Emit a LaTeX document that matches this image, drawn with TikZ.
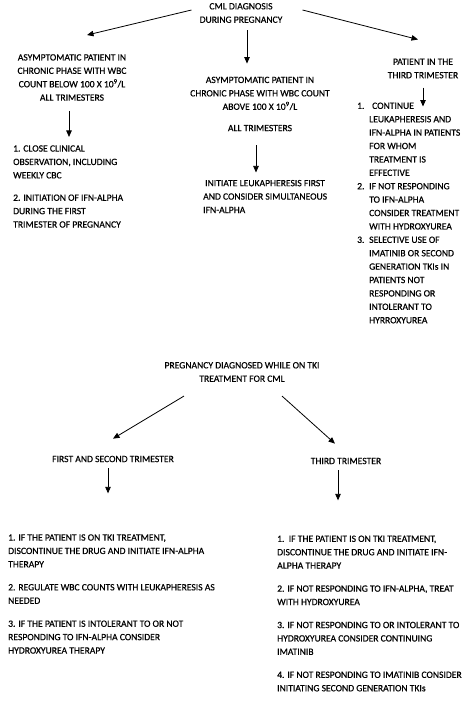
\documentclass[tikz,border=0pt]{standalone}
\usepackage{fontspec}
\setmainfont{Carlito}[FakeBold=0.5]
\usetikzlibrary{arrows.meta}

\begin{document}
\begin{tikzpicture}[x=1pt,y=-1pt,
  arr/.style={black,line width=0.8pt,-{Triangle[length=6.5pt,width=5.5pt]}},
  txt/.style={font=\fontsize{9.6}{13.4}\selectfont}]
\tikzstyle{every node}+=[inner sep=0pt]
\useasboundingbox (0,0) rectangle (474,704);
\node [txt,align=center] (diag) at (241,13) {CML DIAGNOSIS\\DURING PREGNANCY};
\node [txt,align=center] (asymLow) at (72,77.5) {ASYMPTOMATIC PATIENT IN\\CHRONIC PHASE WITH WBC\\COUNT BELOW 100 X 10\textsuperscript{9}/L\\ALL TRIMESTERS};
\node [txt,align=center] (asymHigh) at (260,104) {ASYMPTOMATIC PATIENT IN\\CHRONIC PHASE WITH WBC COUNT\\ABOVE 100 X 10\textsuperscript{9}/L\\[8pt]ALL TRIMESTERS};
\node [txt,align=center] (third) at (423,68.5) {PATIENT IN THE\\THIRD TRIMESTER};
\node [txt,align=left,anchor=west] (leftList) at (13,186.5) {1. CLOSE CLINICAL\\OBSERVATION, INCLUDING\\WEEKLY CBC\\[9pt]2. INITIATION OF IFN-ALPHA\\DURING THE FIRST\\TRIMESTER OF PREGNANCY};
\node [txt,align=left,anchor=west] (midList) at (203,196.5) {\hspace*{2pt}INITIATE LEUKAPHERESIS FIRST\\AND CONSIDER SIMULTANEOUS\\IFN-ALPHA};
\node [txt,align=left,anchor=west] (rightList) at (357,213) {\makebox[15pt][l]{1.}CONTINUE\\\hspace*{12pt}LEUKAPHERESIS AND\\\hspace*{12pt}IFN-ALPHA IN PATIENTS\\\hspace*{12pt}FOR WHOM\\\hspace*{12pt}TREATMENT IS\\\hspace*{12pt}EFFECTIVE\\\makebox[12pt][l]{2.}IF NOT RESPONDING\\\hspace*{12pt}TO IFN-ALPHA\\\hspace*{12pt}CONSIDER TREATMENT\\\hspace*{12pt}WITH HYDROXYUREA\\\makebox[12pt][l]{3.}SELECTIVE USE OF\\\hspace*{12pt}IMATINIB OR SECOND\\\hspace*{12pt}GENERATION TKIs IN\\\hspace*{12pt}PATIENTS NOT\\\hspace*{12pt}RESPONDING OR\\\hspace*{12pt}INTOLERANT TO\\\hspace*{12pt}HYRROXYUREA};
\node [txt,align=center] (tki) at (242,372) {PREGNANCY DIAGNOSED WHILE ON TKI\\TREATMENT FOR CML};
\node [txt] (firstSec) at (113,459) {FIRST AND SECOND TRIMESTER};
\node [txt] (thirdTri) at (346,461) {THIRD TRIMESTER};
\node [txt,align=left,anchor=west] (blList) at (8,594) {1. IF THE PATIENT IS ON TKI TREATMENT,\\DISCONTINUE THE DRUG AND INITIATE IFN-ALPHA\\THERAPY\\[9.6pt]2. REGULATE WBC COUNTS WITH LEUKAPHERESIS AS\\NEEDED\\[9.6pt]3. IF THE PATIENT IS INTOLERANT TO OR NOT\\RESPONDING TO IFN-ALPHA CONSIDER\\HYDROXYUREA THERAPY};
\node [txt,align=left,anchor=west] (brList) at (277,613.5) {1.\ \ IF THE PATIENT IS ON TKI TREATMENT,\\DISCONTINUE THE DRUG AND INITIATE IFN-\\ALPHA THERAPY\\[9.6pt]2. IF NOT RESPONDING TO IFN-ALPHA, TREAT\\WITH HYDROXYUREA\\[9.6pt]3. IF NOT RESPONDING TO OR INTOLERANT TO\\HYDROXYUREA CONSIDER CONTINUING\\IMATINIB\\[9.6pt]4. IF NOT RESPONDING TO IMATINIB CONSIDER\\INITIATING SECOND GENERATION TKIs};
\draw [arr] ([shift={(-8,-3)}]diag.west) -- ([shift={(15,-19)}]asymLow.north);
\draw [arr] ([shift={(6,7)}]diag.south) -- ([shift={(-13,-13)}]asymHigh.north);
\draw [arr] ([shift={(20,-3)}]diag.east) -- ([shift={(-5,-19)}]third.north);
\draw [arr] ([shift={(-3,10)}]asymLow.south) -- ([shift={(-3,36)}]asymLow.south);
\draw [arr] ([shift={(-4,14)}]asymHigh.south) -- ([shift={(-4,41)}]asymHigh.south);
\draw [arr] ([shift={(0,9)}]third.south) -- ([shift={(0,28)}]third.south);
\draw [arr] ([shift={(-58,14)}]tki.south) -- ([shift={(0,-17)}]firstSec.north);
\draw [arr] ([shift={(40,14)}]tki.south) -- ([shift={(-11,-14)}]thirdTri.north);
\draw [arr] ([shift={(-5,6)}]firstSec.south) -- ([shift={(-5,31)}]firstSec.south);
\draw [arr] ([shift={(-8,6)}]thirdTri.south) -- ([shift={(-8,36)}]thirdTri.south);
\end{tikzpicture}
\end{document}
